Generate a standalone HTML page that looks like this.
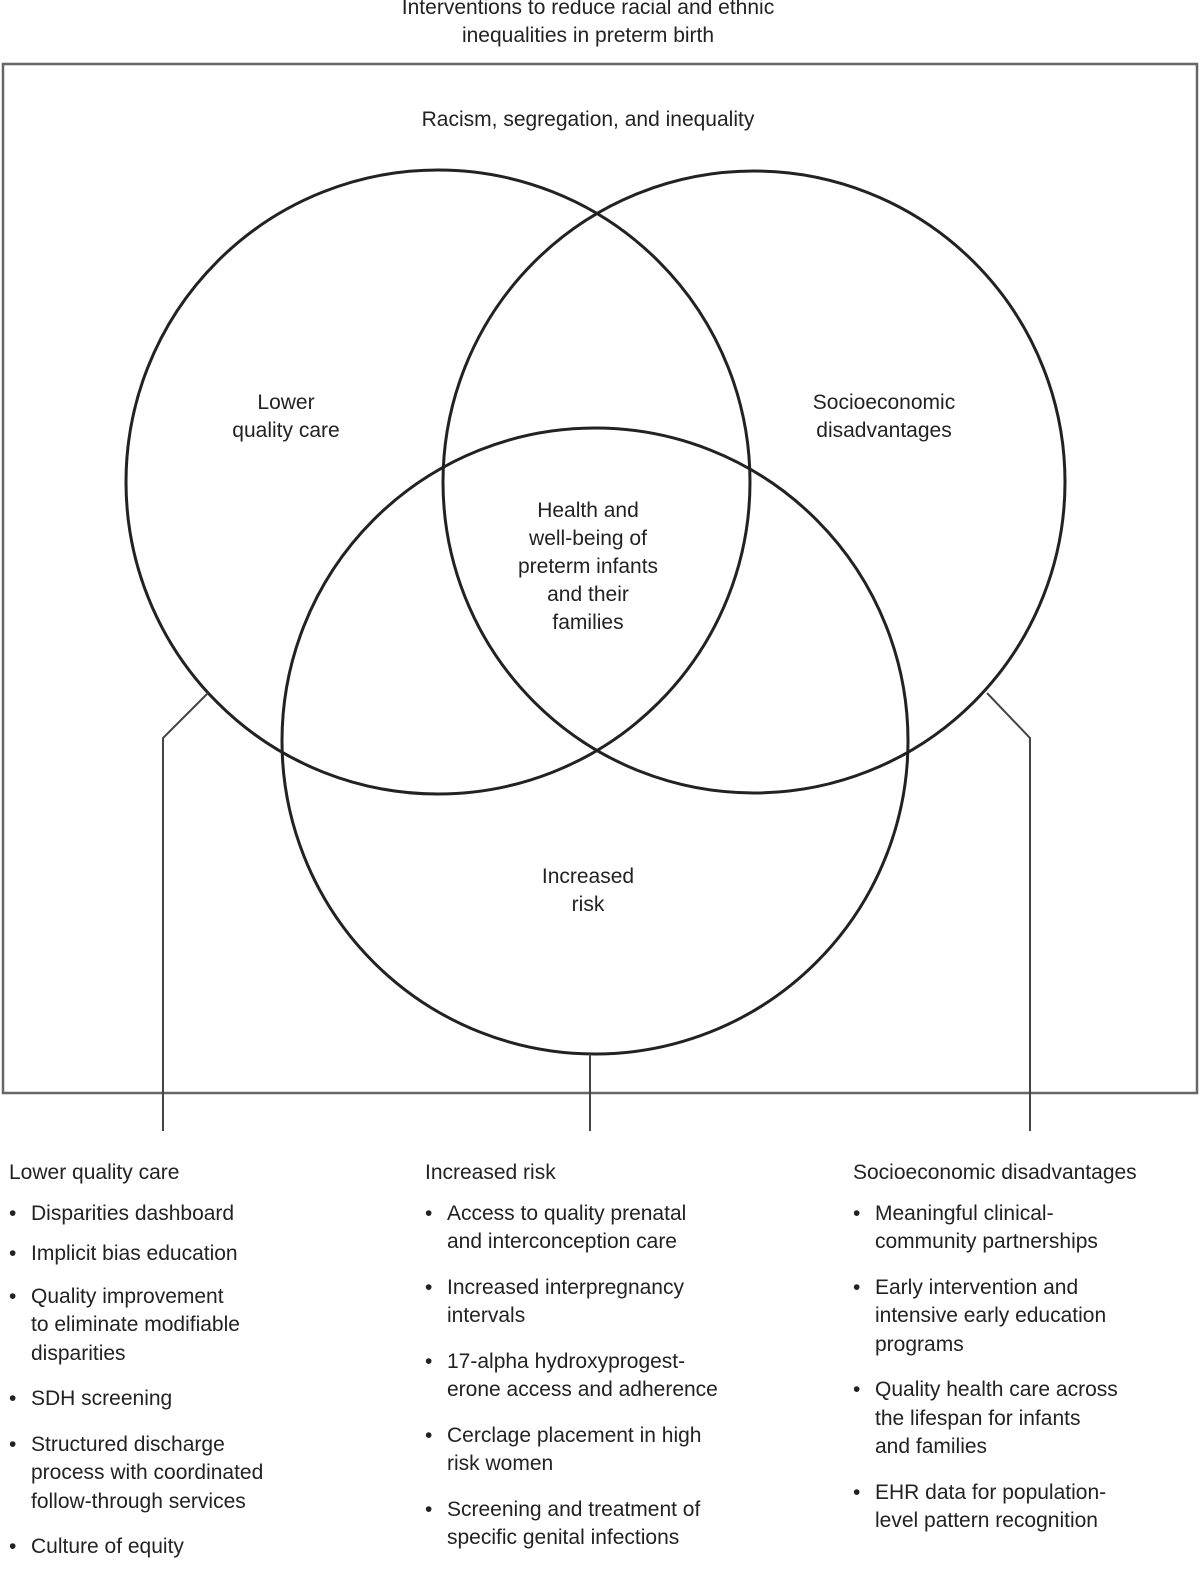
<!DOCTYPE html>
<html><head><style>
body{margin:0;width:1200px;height:1563px;background:#fff;overflow:hidden;font-family:"Liberation Sans",sans-serif;color:#222}
svg{position:absolute;left:0;top:0}
.t{position:absolute;font-size:21px;line-height:28px;text-align:center}
.col{position:absolute;font-size:21px;line-height:28.5px}
.col .h{margin-bottom:12px}
.col ul{list-style:none;margin:0;padding:0}
.col li{position:relative;padding-left:22px;margin-bottom:17px}
.col li:before{content:"•";position:absolute;left:0;top:0}
</style></head><body>
<svg width="1200" height="1563">
<rect x="3" y="64" width="1194" height="1029" fill="none" stroke="#666" stroke-width="2.5"/>
<g fill="none" stroke="#222" stroke-width="3">
<circle cx="438" cy="482" r="312"/>
<circle cx="754" cy="482" r="311"/>
<circle cx="595" cy="741" r="313"/>
</g>
<g fill="none" stroke="#444" stroke-width="2">
<polyline points="208,693 163,738 163,1131"/>
<polyline points="590,1054 590,1131"/>
<polyline points="987,693 1030,738 1030,1131"/>
</g>
</svg>
<div class="t" style="left:300px;top:-6px;width:576px;line-height:28px">Interventions to reduce racial and ethnic<br>inequalities in preterm birth</div>
<div class="t" style="left:300px;top:106px;width:576px">Racism, segregation, and inequality</div>
<div class="t" style="left:186px;top:389px;width:200px">Lower<br>quality care</div>
<div class="t" style="left:774px;top:389px;width:220px">Socioeconomic<br>disadvantages</div>
<div class="t" style="left:488px;top:497px;width:200px">Health and<br>well-being of<br>preterm infants<br>and their<br>families</div>
<div class="t" style="left:488px;top:863px;width:200px">Increased<br>risk</div>
<div class="col" style="left:9px;top:1159px;width:320px">
<div class="h">Lower quality care</div>
<ul>
<li style="margin-bottom:12px">Disparities dashboard</li>
<li style="margin-bottom:14px">Implicit bias education</li>
<li>Quality improvement<br>to eliminate modifiable<br>disparities</li>
<li>SDH screening</li>
<li>Structured discharge<br>process with coordinated<br>follow-through services</li>
<li>Culture of equity</li>
</ul></div>
<div class="col" style="left:425px;top:1159px;width:360px">
<div class="h">Increased risk</div>
<ul>
<li>Access to quality prenatal<br>and interconception care</li>
<li>Increased interpregnancy<br>intervals</li>
<li>17-alpha hydroxyprogest-<br>erone access and adherence</li>
<li>Cerclage placement in high<br>risk women</li>
<li>Screening and treatment of<br>specific genital infections</li>
</ul></div>
<div class="col" style="left:853px;top:1159px;width:345px">
<div class="h">Socioeconomic disadvantages</div>
<ul>
<li>Meaningful clinical-<br>community partnerships</li>
<li>Early intervention and<br>intensive early education<br>programs</li>
<li>Quality health care across<br>the lifespan for infants<br>and families</li>
<li>EHR data for population-<br>level pattern recognition</li>
</ul></div>
</body></html>
